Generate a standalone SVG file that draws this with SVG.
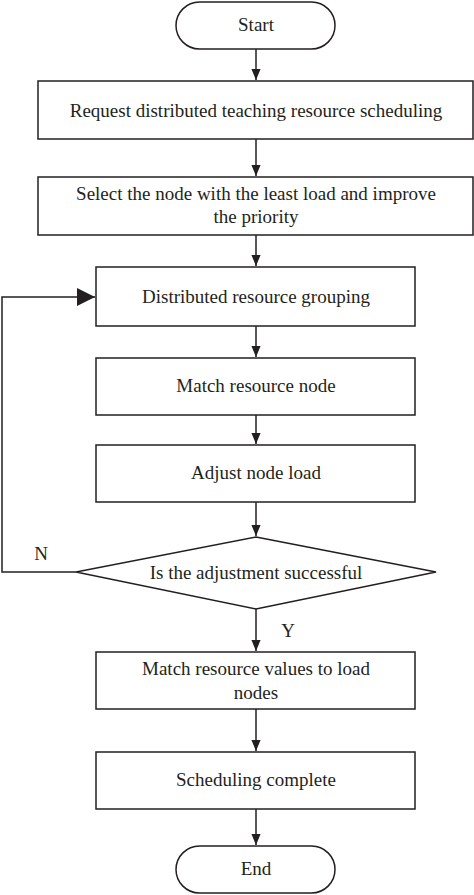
<svg xmlns="http://www.w3.org/2000/svg" width="474" height="895" viewBox="0 0 474 895">
<defs>
<style>
.n{fill:#fff;stroke:#231f20;stroke-width:1.5}
.t{font-family:"Liberation Serif","Times New Roman",serif;font-size:19px;fill:#231f20;text-anchor:middle}
.c{fill:none;stroke:#231f20;stroke-width:1.5}
</style>
<marker id="a" viewBox="0 0 12 10" refX="12" refY="5" markerWidth="11" markerHeight="10" markerUnits="userSpaceOnUse" orient="auto"><path d="M0,0L12,5L0,10Z" fill="#231f20"/></marker>
<marker id="b" viewBox="0 0 10 10" refX="10" refY="5" markerWidth="18" markerHeight="18" markerUnits="userSpaceOnUse" orient="auto"><path d="M0,0L10,5L0,10Z" fill="#231f20"/></marker>
</defs>
<rect width="474" height="895" fill="#fff"/>
<g id="connectors">
<path class="c" d="M256,49V80" marker-end="url(#a)"/>
<path class="c" d="M256,139V176" marker-end="url(#a)"/>
<path class="c" d="M256,235V266" marker-end="url(#a)"/>
<path class="c" d="M256,326V357" marker-end="url(#a)"/>
<path class="c" d="M256,415V444" marker-end="url(#a)"/>
<path class="c" d="M256,502V536" marker-end="url(#a)"/>
<path class="c" d="M256,609V651" marker-end="url(#a)"/>
<path class="c" d="M256,709V751" marker-end="url(#a)"/>
<path class="c" d="M256,809V845" marker-end="url(#a)"/>
<path class="c" d="M76,572H2V297H95" marker-end="url(#b)"/>
<text class="t" x="41" y="560">N</text>
<text class="t" x="288" y="637">Y</text>
</g>
<g id="start"><rect class="n" x="176" y="2" width="159" height="47" rx="23.5"/><text class="t" x="256" y="31">Start</text></g>
<g id="request"><rect class="n" x="38" y="81" width="435" height="58"/><text class="t" x="256" y="117">Request distributed teaching resource scheduling</text></g>
<g id="select"><rect class="n" x="38" y="177" width="435" height="58"/><text class="t" x="256" y="200">Select the node with the least load and improve</text><text class="t" x="256" y="223">the priority</text></g>
<g id="grouping"><rect class="n" x="96" y="267" width="319" height="59"/><text class="t" x="256" y="303">Distributed resource grouping</text></g>
<g id="match"><rect class="n" x="96" y="358" width="319" height="57"/><text class="t" x="256" y="392">Match resource node</text></g>
<g id="adjust"><rect class="n" x="96" y="445" width="319" height="57"/><text class="t" x="256" y="479">Adjust node load</text></g>
<g id="decision"><polygon class="n" points="256,537 436,572 256,609 76,572"/><text class="t" x="256" y="579">Is the adjustment successful</text></g>
<g id="values"><rect class="n" x="96" y="652" width="319" height="57"/><text class="t" x="256" y="675">Match resource values to load</text><text class="t" x="256" y="699">nodes</text></g>
<g id="complete"><rect class="n" x="96" y="752" width="319" height="57"/><text class="t" x="256" y="786">Scheduling complete</text></g>
<g id="end"><rect class="n" x="176" y="846" width="159" height="47" rx="23.5"/><text class="t" x="256" y="875">End</text></g>
</svg>
